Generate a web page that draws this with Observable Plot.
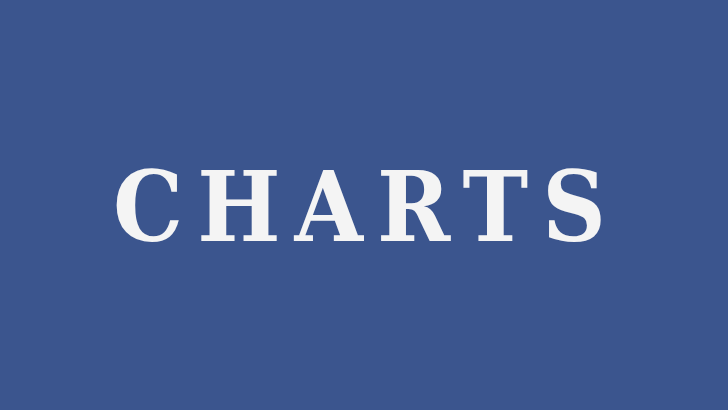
<!DOCTYPE html>
<html>
<head>
<meta charset="utf-8">
<script src="https://cdn.jsdelivr.net/npm/d3@7"></script>
<script src="https://cdn.jsdelivr.net/npm/@observablehq/plot@0.6"></script>
<style>
html, body { margin: 0; padding: 0; background: #3b558e; overflow: hidden; }
svg text { font-stretch: condensed; }
</style>
</head>
<body>
<div id="chart"></div>
<script>
const words = ["CHARTS"];
const bgColor = "#3b558e";
const textColor = "#f4f4f4";

const chart = Plot.plot({
  width: 728,
  height: 410,
  margin: 0,
  style: { background: bgColor, letterSpacing: "14px" },
  marks: [
    Plot.text(words, {
      text: d => d,
      frameAnchor: "middle",
      dx: 2,
      dy: 4,
      fill: textColor,
      fontSize: 98,
      fontFamily: "'DejaVu Serif Condensed', 'DejaVu Serif', serif",
      fontWeight: "bold"
    })
  ]
});
document.getElementById("chart").append(chart);
</script>
</body>
</html>
